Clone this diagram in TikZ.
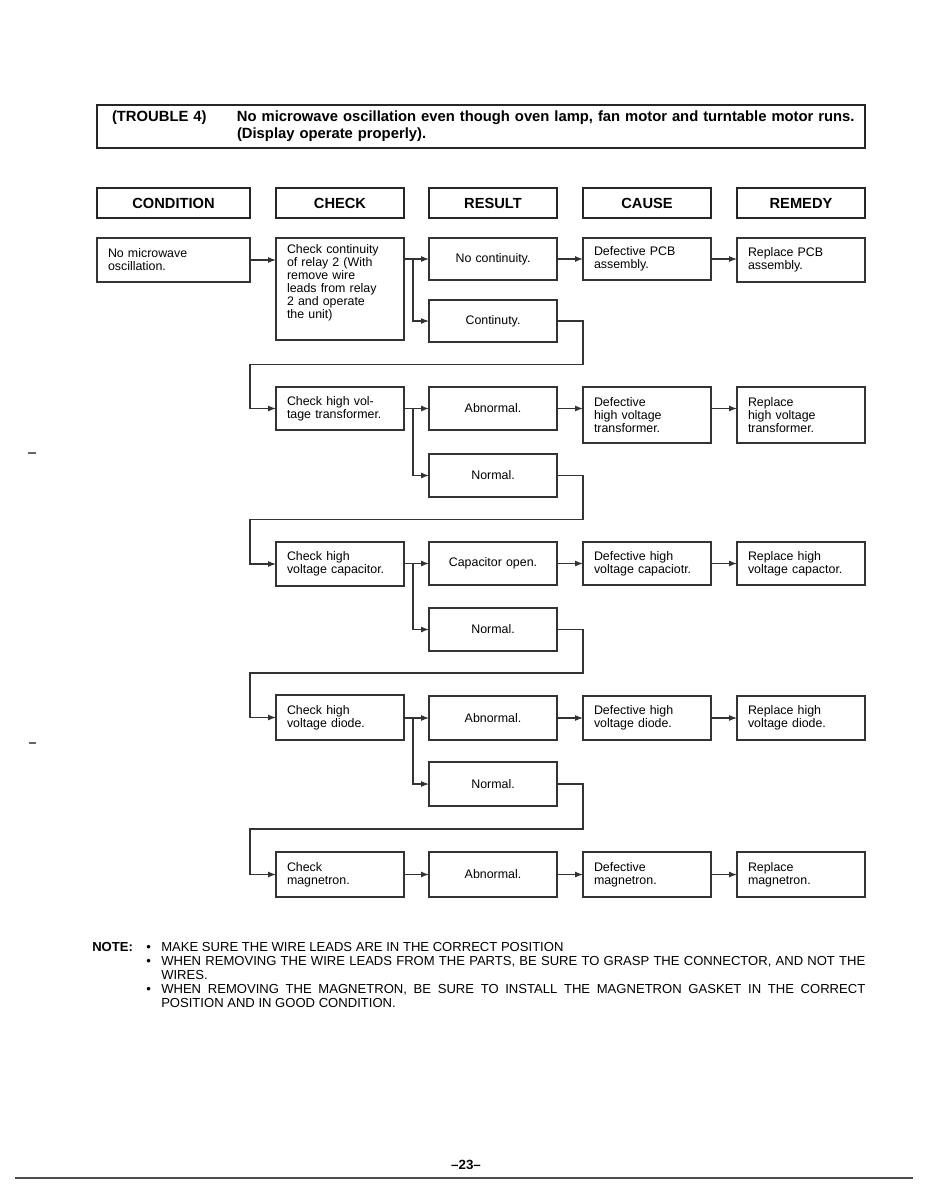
\documentclass[tikz,border=0pt]{standalone}
\usepackage{fontspec}
\setmainfont{Liberation Sans}
\usetikzlibrary{arrows.meta,calc}

\begin{document}
\begin{tikzpicture}[>={Latex[length=6pt,width=4.5pt]},x=0.75pt,y=-0.75pt]
  \tikzstyle{box}=[draw=black!80,line width=0.8pt,anchor=north west,outer sep=0pt,inner xsep=8.25pt,inner ysep=2pt,text width=79.5pt,align=left,minimum height=33pt,font=\fontsize{9.3}{9.75}\selectfont]
  \tikzstyle{wide}=[text width=98.25pt]
  \tikzstyle{res}=[box,align=center]
  \tikzstyle{hdr}=[draw=black!85,line width=1.1pt,anchor=north west,outer sep=0pt,minimum width=96pt,minimum height=22.5pt,font=\bfseries\fontsize{11}{13}\selectfont]
  \tikzstyle{line}=[draw=black!80,line width=0.8pt]
  \tikzstyle{arr}=[line,->]
  \useasboundingbox (0,0) rectangle (928,1200);

  \node[draw=black!85,line width=1.3pt,anchor=north west,outer sep=0pt,minimum width=576pt,minimum height=32.25pt,inner xsep=11.25pt,text width=553.5pt,align=left,font=\bfseries\fontsize{11.1}{12.75}\selectfont] (title) at (97,105)
    {\begin{tabular}{@{}p{93.75pt}@{}l@{}}(TROUBLE 4) & No microwave oscillation even though oven lamp, fan motor and turntable motor runs.\\ & (Display operate properly).\end{tabular}};

  \node[hdr,minimum width=114.75pt] (hcond) at (97,188) {CONDITION};
  \node[hdr] (hchk) at (276,188) {CHECK};
  \node[hdr] (hres) at (429,188) {RESULT};
  \node[hdr] (hcau) at (583,188) {CAUSE};
  \node[hdr] (hrem) at (737,188) {REMEDY};

  \node[box,wide] (cond) at (97,238) {No microwave\\oscillation.};
  \node[box,minimum height=76.5pt,text depth=60pt] (chk1) at (276,238) {Check continuity\\of relay 2 (With\\remove wire\\leads from relay\\2 and operate\\the unit)};
  \node[res,minimum height=31.5pt] (res1) at (429,238) {No continuity.};
  \node[box,minimum height=31.5pt] (cau1) at (583,238) {Defective PCB\\assembly.};
  \node[box] (rem1) at (737,238) {Replace PCB\\assembly.};
  \node[res,minimum height=31.5pt] (nor1) at (429,300) {Continuty.};

  \node[box,minimum height=32.25pt] (chk2) at (276,387) {Check high vol-\\tage transformer.};
  \node[res,minimum height=32.25pt] (res2) at (429,387) {Abnormal.};
  \node[box,minimum height=42pt] (cau2) at (583,387) {Defective\\high voltage\\transformer.};
  \node[box,minimum height=42pt] (rem2) at (737,387) {Replace\\high voltage\\transformer.};
  \node[res,minimum height=32.25pt] (nor2) at (429,454) {Normal.};

  \node[box] (chk3) at (276,542) {Check high\\voltage capacitor.};
  \node[res,minimum height=32.25pt] (res3) at (429,542) {Capacitor open.};
  \node[box,minimum height=32.25pt] (cau3) at (583,542) {Defective high\\voltage capaciotr.};
  \node[box,minimum height=32.25pt] (rem3) at (737,542) {Replace high\\voltage capactor.};
  \node[res,minimum height=32.25pt] (nor3) at (429,608) {Normal.};

  \node[box,minimum height=33.75pt] (chk4) at (276,695) {Check high\\voltage diode.};
  \node[res] (res4) at (429,696) {Abnormal.};
  \node[box] (cau4) at (583,696) {Defective high\\voltage diode.};
  \node[box] (rem4) at (737,696) {Replace high\\voltage diode.};
  \node[res] (nor4) at (429,762) {Normal.};

  \node[box,minimum height=33.75pt] (chk5) at (276,852) {Check\\magnetron.};
  \node[res,minimum height=33.75pt] (res5) at (429,852) {Abnormal.};
  \node[box,minimum height=33.75pt] (cau5) at (583,852) {Defective\\magnetron.};
  \node[box,minimum height=33.75pt] (rem5) at (737,852) {Replace\\magnetron.};

  \coordinate (br) at ($(chk1.east)+(9,0)$);
  \draw[arr] (cond.east) -- (cond.east -| chk1.west);
  \foreach \i in {1,...,4} {
    \draw[line] (chk\i.east |- res\i) -- (br |- res\i);
    \draw[arr] (br |- res\i) -- (res\i);
    \draw[arr] (br |- res\i) |- (nor\i);
  }
  \draw[arr] (chk5.east |- res5) -- (res5);
  \foreach \i in {1,...,5} {
    \draw[arr] (res\i.east) -- (res\i.east -| cau\i.west);
    \draw[arr] (cau\i.east |- res\i) -- (res\i -| rem\i.west);
  }
  \foreach \i/\j in {1/2,2/3,3/4,4/5} {
    \coordinate (m\i) at ($(nor\i.south)!0.5!(chk\j.north)$);
    \draw[arr] (nor\i.east) -| (cau\i.west |- m\i) -- (cond.east |- m\i) |- (chk\j);
  }

  \node[anchor=north west,inner sep=0pt,font=\fontsize{9.8}{10.5}\selectfont] (note) at (92,941)
    {\begin{tabular}{@{}p{40.5pt}@{}p{11.25pt}@{}p{528pt}@{}}
      \textbf{NOTE:} & • & MAKE SURE THE WIRE LEADS ARE IN THE CORRECT POSITION\\
      & • & WHEN REMOVING THE WIRE LEADS FROM THE PARTS, BE SURE TO GRASP THE CONNECTOR, AND NOT THE\linebreak WIRES.\\
      & • & WHEN REMOVING THE MAGNETRON, BE SURE TO INSTALL THE MAGNETRON GASKET IN THE CORRECT\linebreak POSITION AND IN GOOD CONDITION.
    \end{tabular}};

  \node[font=\bfseries\fontsize{10}{12}\selectfont] (page) at (466,1165) {–23–};
  \draw[black!70,line width=1.4pt] (15,1178) -- (913,1178);
  \draw[black!60,line width=0.8pt] (28,453) -- (36,453);
  \draw[black!60,line width=0.8pt] (29,743) -- (36,743);
\end{tikzpicture}
\end{document}
